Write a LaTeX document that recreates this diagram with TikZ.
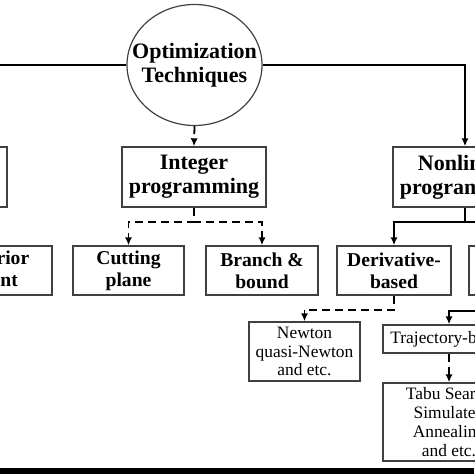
\documentclass[tikz,border=0pt]{standalone}
\usepackage{fontspec}
\setmainfont{Liberation Serif}
\usetikzlibrary{arrows.meta,shapes.geometric}

\begin{document}
\begin{tikzpicture}[x=0.5pt,y=-0.5pt,
    box/.style={draw=black!75,line width=0.7pt,fill=white,inner sep=1pt,align=center},
    topbox/.style={box,minimum width=72pt,minimum height=30pt,font=\bfseries\fontsize{11}{12}\selectfont},
    leafbox/.style={box,minimum height=24.5pt,font=\bfseries\fontsize{9.8}{11}\selectfont},
    textbox/.style={box,font=\fontsize{8.7}{9.4}\selectfont},
    link/.style={line width=0.9pt,-{Latex[length=4pt,width=3.6pt]}},
    dlink/.style={link,dash pattern=on 4pt off 2.5pt}]
  \useasboundingbox (0,0) rectangle (474,474);
  \fill (0,468) rectangle (474,474);

  % root
  \node[ellipse,draw=black!75,line width=0.6pt,minimum width=67.5pt,minimum height=60.5pt,
        inner sep=0pt] (opt) at (194.5,65) {};
  \node[align=center,inner sep=0pt,font=\bfseries\fontsize{11}{12}\selectfont]
        (optlabel) at (opt) {Optimization\\Techniques};

  % second level
  \node[topbox] (lin) at (-65,177) {};
  \node[topbox] (int) at (194,177) {Integer\\programming};
  \node[topbox] (nonlin) at (465,177) {Nonlinear\\programming};

  % third level
  \node[leafbox,minimum width=56pt] (interior) at (-4,270.5) {Interior\\point};
  \node[leafbox,minimum width=55.5pt] (cut) at (128.5,270.5) {Cutting\\plane};
  \node[leafbox,minimum width=56pt] (bb) at (262,270.5) {Branch \&\\bound};
  \node[leafbox,minimum width=57pt] (deriv) at (394,270.5) {Derivative-\\based};
  \node[leafbox,minimum width=57pt] (free) at (526,270.5) {};

  % fourth level
  \node[textbox,minimum width=55.5pt,minimum height=29.5pt] (newton) at (304.5,351.5) {Newton\\quasi-Newton\\and etc.};
  \node[textbox,minimum width=66pt,minimum height=14pt] (traj) at (449,339) {Trajectory-based};
  \node[textbox,minimum width=66pt,minimum height=39pt] (tabu) at (449,422) {Tabu Search\\Simulated\\Annealing\\and etc.};

  % connectors
  \draw[link] (opt.west) -| (lin.north);
  \draw[link] (opt.east) -| (nonlin.north);
  \draw[dlink] (opt.south) -- (int.north);
  \draw[dlink] (lin.south) -- ++(0,14) -| (interior.north);
  \draw[dlink] (int.south) -- ++(0,14) -| (cut.north);
  \draw[dlink] (int.south) -- ++(0,14) -| (bb.north);
  \draw[link] (nonlin.south) -- ++(0,14) -| (deriv.north);
  \draw[link] (nonlin.south) -- ++(0,14) -| (free.north);
  \draw[dlink] (deriv.south) -- ++(0,14) -| (newton.north);
  \draw[link] (free.south) -- ++(0,15) -| (traj.north);
  \draw[dlink] (traj.south) -- (tabu.north);
\end{tikzpicture}
\end{document}
